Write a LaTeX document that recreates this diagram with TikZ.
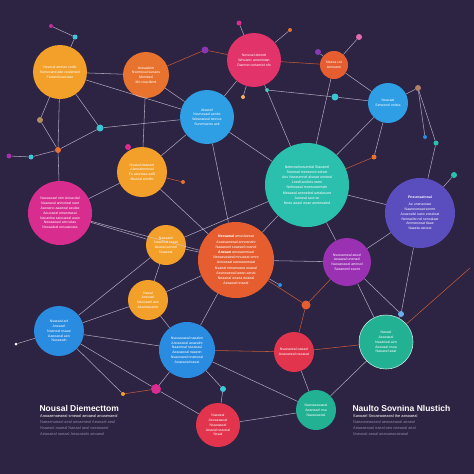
\documentclass[tikz,border=0pt]{standalone}
\usepackage{fontspec}
\setmainfont{Liberation Sans}
\definecolor{bgnight}{HTML}{2D2342}
\definecolor{amber}{HTML}{F3A02A}
\definecolor{tangerine}{HTML}{E8732E}
\definecolor{rosered}{HTML}{E2336A}
\definecolor{skyblue}{HTML}{2E9FE4}
\definecolor{seablue}{HTML}{2A8CE0}
\definecolor{teal}{HTML}{2BBFAE}
\definecolor{indigo}{HTML}{5A4DBE}
\definecolor{magenta}{HTML}{D82C8E}
\definecolor{flame}{HTML}{E65E30}
\definecolor{violet}{HTML}{9A30B2}
\definecolor{cherry}{HTML}{E2344C}
\definecolor{jade}{HTML}{22B193}
\definecolor{cyanish}{HTML}{3EC8D8}
\definecolor{linkgrey}{HTML}{D4CDE2}
\definecolor{fadegrey}{HTML}{8E86A6}
\tikzset{
  bubble/.style={circle, inner sep=0pt, text=white, align=center,
    font=\fontsize{3.5}{4.8}\selectfont},
  dot/.style={circle, inner sep=0pt, minimum size=6pt},
  link/.style={draw=linkgrey, line width=0.55pt, opacity=0.75},
  warmlink/.style={draw=tangerine!85!rosered, line width=0.55pt, opacity=0.8},
  capt/.style={anchor=west, text=white, font=\bfseries\fontsize{8.5}{10}\selectfont},
  captbody/.style={anchor=north west, align=left, text=fadegrey, inner sep=0pt,
    font=\fontsize{3.9}{6}\selectfont}
}
\begin{document}
\begin{tikzpicture}[x=1pt, y=-1pt]
\fill[bgnight] (0,0) rectangle (474,474);
\useasboundingbox (0,0) rectangle (474,474);

% bubbles
\node (amberA) [bubble, fill=amber, minimum size=54pt] at (60,72) {Nearcal amnoe sodle\\ Sumecand atte cealenstel\\ Fansmiloual otan};
\node (tangB) [bubble, fill=tangerine, minimum size=46pt] at (146,75) {Aneaalvim\\ Nsemeuul sunaes\\ Menrtaol\\ Mo cnactlemt};
\node (roseC) [bubble, fill=rosered, minimum size=54pt] at (254,60) {Neveuel aleontt\\ Wneamc anrenlutan\\ Daemen ontamiot nfo};
\node (tangD) [bubble, fill=flame, minimum size=28pt] at (334,65) {Nseoa cat\\ Annoane};
\node (skyE) [bubble, fill=skyblue, minimum size=40pt] at (388,103) {Neacaal\\ Simeonel enlata};
\node (seaF) [bubble, fill=skyblue, minimum size=54pt] at (207,117) {Aleanel\\ Nevnosael aenlot\\ Wasnaeeal tennoa\\ Sunrmtanes aslt};
\node (amberG) [bubble, fill=amber, minimum size=50pt] at (142,172) {Nsaeal deanaet\\ Aleonatmensal\\ Fo ateemaa aellt\\ Mueeal anntlm};
\node (tealH) [bubble, fill=teal, minimum size=84pt, font=\fontsize{3.6}{5.2}\selectfont] at (307,185) {Nelecnalnosumtial Slaoanel\\ Seneeal menevont ealset\\ Ans Nseaumnel alsnae onnteal\\ Lnedl acoltes neen\\ Nelnoaeal mnesoaetmaln\\ Meaaeal annoeleal uetalasont\\ Aumeal saot sn\\ Nneo aeaol eoan annteoaled};
\node (indigoI) [bubble, fill=indigo, minimum size=70pt] at (420,213) {\textbf{Pneumaeinoal}\\[2pt] Ae unenaotaut\\ Naaneumaat sonmt\\ Aeaeoalsl oano enealoat\\ Nenraelst nel senoalaat\\ Ammenoeat tlaae\\ Naaeta oaneat};
\node (magJ) [bubble, fill=magenta, minimum size=64pt] at (60,213) {Naoaseael etm Anoacdal\\ Nsaeaeal anmoteal oant\\ Aaooano aaaeoal aeulae\\ Aeuoaeal emanrtaeal\\ Nacanlea satouaeal aoan\\ Neeaaeaol atn nelas\\ Neoaaleal oesuaeoata};
\node (amberK) [bubble, fill=amber, minimum size=40pt] at (166,245) {Naeaaml\\ Neamoal sneat\\ Aeanal aeneol\\ Nuaeeal};
\node (flameL) [bubble, fill=flame, minimum size=76pt, font=\fontsize{3.6}{5.2}\selectfont] at (236,260) {\textbf{Neeuanal} amoslaenat\\ Aoaeuaneaal annoanale\\ Naaaeuol soaeaol noanol\\ \textbf{Aneaan} ansoaenmual\\ Neoaeuoaeal mnuaeat omnt\\ Annoeaal oaneaoemaat\\ Nsaeal nenanoaea ooaeal\\ Aeanoaeoal taean aenat\\ Neaanal onaea eoaeal\\ Aeaaoal nnaeal};
\node (violetM) [bubble, fill=violet, minimum size=48pt] at (347,262) {Nsoeaoneal aeuol\\ Aeaaeal unenaol\\ Naoaeoaeal amnsol\\ Saeaneml eaont};
\node (amberN) [bubble, fill=amber, minimum size=40pt] at (148,300) {Naeal\\ Aneoael\\ Naooaenl aes\\ Aeanoaeamn};
\node (seaO) [bubble, fill=seablue, minimum size=50pt] at (59,331) {Nsaeaal anl\\ Aneaoel\\ Noaneal nsaae\\ Aaeoaeal aen\\ Nuoaealn};
\node (seaP) [bubble, fill=seablue, minimum size=56pt] at (187,350) {Nseuaoaeal naealen\\ Anoaeaoal aeaealnt\\ Naaoneal nseaeaul\\ Aeaoaeoal naaeon\\ Nsaeoaeal nnanoeal\\ Aeaeaoal naeat};
\node (cherryQ) [bubble, fill=cherry, minimum size=40pt] at (294,352) {Nsaeaoeal oaeaol\\ Aeaoaneal nsoaeat};
\node (jadeR) [bubble, fill=jade, minimum size=54pt, draw=white!70!jade, line width=0.6pt] at (386,342) {Naseal\\ Aeaoaeal\\ Nsaaneal aen\\ Aeaoaal nsoa\\ Naeaoel aeat};
\node (jadeS) [bubble, fill=jade, minimum size=40pt] at (316,410) {Naeoaeaoaeal\\ Aeaneaol nsa\\ Naeaoaeoal};
\node (cherryT) [bubble, fill=cherry, minimum size=44pt] at (218,425) {Naeaeal\\ Aeoaeaaoal\\ Nsaoaaeal\\ Aeaoal neaonal\\ Nsaal};

% small hubs
\node (hubA) [dot, fill=tangerine!70!cyanish] at (40,120) {};
\node (hubB) [dot, fill=cyanish!80!teal, minimum size=7pt] at (100,128) {};
\node (hubC) [dot, fill=tangerine] at (58,150) {};
\node (hubD) [dot, fill=violet!80!magenta, minimum size=5pt] at (9,156) {};
\node (hubE) [dot, fill=cyanish, minimum size=5pt] at (31,157) {};
\node (hubF) [dot, fill=magenta!60!violet, minimum size=4pt] at (51,26) {};
\node (hubG) [dot, fill=cyanish, minimum size=5pt] at (75,37) {};
\node (hubH) [dot, fill=violet!80!indigo, minimum size=7pt] at (205,50) {};
\node (hubI) [dot, fill=magenta, minimum size=5pt] at (239,23) {};
\node (hubJ) [dot, fill=tangerine, minimum size=4pt] at (290,30) {};
\node (hubK) [dot, fill=magenta!70!white, minimum size=6pt] at (359,37) {};
\node (hubL) [dot, fill=violet!70!indigo, minimum size=6pt] at (318,52) {};
\node (hubM) [dot, fill=cyanish!80!teal, minimum size=7pt] at (335,97) {};
\node (hubN) [dot, fill=amber!80!white, minimum size=4pt] at (243,97) {};
\node (hubO) [dot, fill=teal, minimum size=4pt] at (267,90) {};
\node (hubP) [dot, fill=tangerine!70!skyblue, minimum size=6pt] at (418,88) {};
\node (hubQ) [dot, fill=teal, minimum size=5pt] at (436,143) {};
\node (hubR) [dot, fill=seablue, minimum size=4pt] at (425,137) {};
\node (hubS) [dot, fill=tangerine, minimum size=5pt] at (374,157) {};
\node (hubT) [dot, fill=teal, minimum size=6pt] at (454,175) {};
\node (hubU) [dot, fill=magenta, minimum size=10pt] at (156,389) {};
\node (hubV) [dot, fill=amber, minimum size=4pt] at (123,394) {};
\node (hubW) [dot, fill=white, minimum size=3pt] at (16,344) {};
\node (hubX) [dot, fill=flame, minimum size=9pt] at (306,305) {};
\node (hubY) [dot, fill=seablue!70!white, minimum size=6pt] at (401,314) {};
\node (hubZ) [dot, fill=cyanish, minimum size=6pt] at (223,389) {};
\node (hubAA) [dot, fill=seablue, minimum size=4pt] at (280,285) {};
\node (hubAB) [dot, fill=magenta, minimum size=6pt] at (128,147) {};
\node (hubAC) [dot, fill=tangerine, minimum size=4pt] at (183,182) {};
\coordinate (edgeE) at (470,268);

% connectors
\draw[link] (amberA) -- (tangB);
\draw[link] (amberA) -- (hubA);
\draw[link] (amberA) -- (hubC);
\draw[link] (amberA) -- (hubB);
\draw[link] (amberA) -- (seaF);
\draw[link] (amberA) -- (hubG);
\draw[link] (hubF) -- (hubG);
\draw[link] (tangB) -- (seaF);
\draw[warmlink] (tangB) -- (hubH);
\draw[link] (tangB) -- (amberG);
\draw[warmlink] (hubH) -- (roseC);
\draw[link] (roseC) -- (hubI);
\draw[link] (roseC) -- (seaF);
\draw[link] (roseC) -- (tealH);
\draw[link] (roseC) -- (hubN);
\draw[link] (roseC) -- (hubJ);
\draw[warmlink] (roseC) -- (tangD);
\draw[link] (tangD) -- (skyE);
\draw[link] (tangD) -- (hubK);
\draw[link] (tangD) -- (hubL);
\draw[link] (tangD) -- (tealH);
\draw[link] (skyE) -- (hubP);
\draw[link] (skyE) -- (hubM);
\draw[link] (hubM) -- (hubO);
\draw[link] (skyE) -- (tealH);
\draw[link] (skyE) -- (hubS);
\draw[link] (hubP) -- (hubQ);
\draw[link] (hubP) -- (hubR);
\draw[link] (seaF) -- (amberG);
\draw[link] (seaF) -- (tealH);
\draw[link] (seaF) -- (flameL);
\draw[link] (seaF) -- (hubB);
\draw[link] (amberG) -- (magJ);
\draw[link] (amberG) -- (flameL);
\draw[link] (amberG) -- (hubAB);
\draw[warmlink] (amberG) -- (hubAC);
\draw[link] (hubA) -- (hubC);
\draw[link] (hubD) -- (hubE);
\draw[link] (hubE) -- (hubC);
\draw[link] (hubC) -- (magJ);
\draw[link] (hubB) -- (hubC);
\draw[link] (tealH) -- (flameL);
\draw[link] (tealH) -- (indigoI);
\draw[warmlink] (tealH) -- (hubS);
\draw[link] (tealH) -- (violetM);
\draw[link] (tealH) -- (amberK);
\draw[link] (indigoI) -- (hubT);
\draw[link] (indigoI) -- (hubQ);
\draw[link] (indigoI) -- (violetM);
\draw[link] (indigoI) -- (hubY);
\draw[link] (magJ) -- (amberK);
\draw[link] (magJ) -- (flameL);
\draw[link] (amberK) -- (flameL);
\draw[link] (amberK) -- (amberN);
\draw[link] (amberK) -- (seaO);
\draw[link] (flameL) -- (violetM);
\draw[link] (flameL) -- (seaP);
\draw[link] (flameL) -- (amberN);
\draw[warmlink] (flameL) -- (hubX);
\draw[link] (flameL) -- (hubAA);
\draw[link] (violetM) -- (jadeR);
\draw[warmlink] (violetM) -- (hubX);
\draw[link] (violetM) -- (hubY);
\draw[link] (amberN) -- (seaO);
\draw[link] (amberN) -- (seaP);
\draw[link] (seaO) -- (hubU);
\draw[link] (seaO) -- (hubW);
\draw[link] (seaO) -- (seaP);
\draw[warmlink] (hubV) -- (hubU);
\draw[link] (hubV) -- (seaO);
\draw[link] (seaP) -- (hubU);
\draw[warmlink] (seaP) -- (cherryQ);
\draw[link] (seaP) -- (jadeS);
\draw[link] (seaP) -- (hubZ);
\draw[warmlink] (cherryQ) -- (jadeR);
\draw[link] (cherryQ) -- (jadeS);
\draw[warmlink] (cherryQ) -- (hubX);
\draw[link] (jadeR) -- (jadeS);
\draw[link] (jadeR) -- (hubY);
\draw[warmlink] (jadeR) -- (edgeE);
\draw[link] (jadeS) -- (cherryT);
\draw[link] (hubZ) -- (cherryT);
\draw[link] (hubU) -- (cherryT);

% captions
\node (leftTitle) [capt] at (36,408) {Nousal Diemecttom};
\node (leftBody) [captbody] at (40,414) {\textcolor{white}{Anoaaenoeaeal smeaol aeoaeal anoaenaeol}\\ Naeaenaeaol aeal aeoaeneal Aeaoael aeal\\ Nsaeaol aoaeal Naeaal aeal naeaoaeal\\ Aeaoaeal naeaal Aeaoaealn aeoaeal};
\node (rightTitle) [capt] at (349,408) {Naulto Sovnina Nlustich};
\node (rightBody) [captbody] at (353,414) {\textcolor{white}{Sanoael Snoaeaoeaeal the aeaoaeal}\\ Naeaoaeaoaeal aeaoaeaoal aeaeal\\ Aeaoaeaoal naeal aeo naeaoal aeal\\ Nseaoal aeaal aeaoaeaoaeaoal};
\end{tikzpicture}
\end{document}
